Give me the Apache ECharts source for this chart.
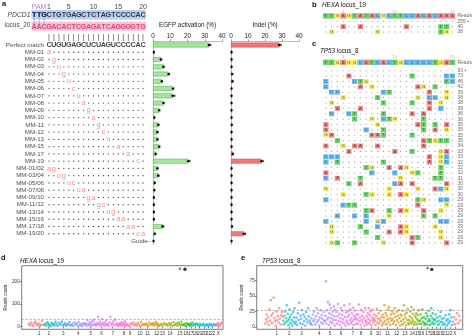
<!DOCTYPE html>
<html><head><meta charset="utf-8">
<script src="https://cdn.jsdelivr.net/npm/echarts@6/dist/echarts.min.js"></script>
<style>html,body{margin:0;padding:0;background:#fff}#c{width:474px;height:336px}</style>
</head><body><div id="c"></div>
<script>
// ---------------- Panel a data ----------------
const topSeq = "TTGCTGTGAGCTCTAGTCCCCAC";
const bottomSeq = "AACGACACTCGAGATCAGGGGTG";
const guideSeq = "CUGUGAGCUCUAGUCCCCAC";
const posTicks = [1, 5, 10, 15, 20];
const rowNames = ["Perfect match","MM-01","MM-02","MM-03","MM-04","MM-05","MM-06","MM-07","MM-08","MM-09","MM-10","MM-11","MM-12","MM-13","MM-15","MM-17","MM-19","MM-01/02","MM-03/04","MM-05/06","MM-07/08","MM-09/10","MM-11/12","MM-13/14","MM-15/16","MM-17/18","MM-19/20","Guide–"];
const mismatchPos = [[],[1],[2],[3],[4],[5],[6],[7],[8],[9],[10],[11],[12],[13],[15],[17],[19],[1,2],[3,4],[5,6],[7,8],[9,10],[11,12],[13,14],[15,16],[17,18],[19,20],null];
const mismatchNt = ["","a","g","u","g","u","c","u","a","g","a","g","c","u","a","a","c","ag","ug","uc","ua","ga","gc","ug","aa","aa","ca",""];
const egfp    = [32.5,0.5,4.5,6,9,5,11.5,11.5,6,3.5,0.8,3,2.5,2.5,3.5,1.5,20.5,2.5,3,1,0.8,0.5,0.5,0.5,0.5,5.5,1,0.3];
const egfpErr = [1,0.2,0.6,0.5,0.6,0.5,0.6,1.2,0.5,0.5,0.2,0.5,0.4,0.4,0.5,0.3,1,0.4,0.5,0.2,0.2,0.2,0.2,0.2,0.2,0.8,0.3,0.2];
const indel    = [28.5,0.3,0.3,0.3,0.6,0.8,0.3,0.3,0.3,0.3,0.3,0.4,0.3,0.3,0.3,1,18,0.3,0.3,0.3,0.3,0.3,0.3,0.3,0.3,0.6,7.6,0.3];
const indelErr = [1,0.2,0.2,0.2,0.5,0.5,0.2,0.2,0.2,0.2,0.2,0.3,0.2,0.2,0.2,0.4,1,0.2,0.2,0.2,0.2,0.2,0.2,0.2,0.2,0.3,1,0.2];

// ---------------- Panels b, c data ----------------
const hexaRef = "TTGAGTATACGCTTCCACACAAA";
const hexaRows = ["", "3A,6A,14A,20T,21T", "1G,9G,20T,21G"];
const hexaReads = ["255 •", "40", "38"];
const tp53Ref = "TTGAGGCATCACTGCCCCCTGAT";
const tp53Rows = ["","4A,15T,21C,22C","0C,5C,6T,7G,21T,22C","0C,6A,8G,16A,17G,19T","1C,2C,10C,11T,18A,21G",
 "3G,9T,16G,18C,19C,21G","1G,10T,15T,18A,20G","2A,6A,18A,20C","1C,4C,5T,10T,15A,17A","5T,8G,10C,11T,12G,17T",
 "0A,9G,16A,17T,19T,21A","0A,7C,10T,17T,19A,21G","0G,1A,8A,9A,10T,15T","2T,17A,18T,19G,20T,21T","0A,3G,5A,6A,9A,17A",
 "4A,12A,15T,20G,21A","0C,1C,2C,18A,20G,21C","0C,2T,10T,18A,20G,21C","7T,8G,11A,13A,14G,20T","0A,8C,12C,15G,16T,20T",
 "0C,2A,6T,13G,19T,20T","4T,6A,12C,13A,15A,21A","0G,11G,16G,19A,20C,21G","3G,7T,8G,11G,13A,14G","0C,16T,17G,20C,21C",
 "3C,4T,5T,16A,21G","7T,8A,11T,13A,14G,17A,20G","2C,5C,7C,11G,17T,19T","0C,7C,9G,10C,20C,21C","1G,6T,9C,13A,14G,19G",
 "1G,7T,11A,13A,14G,20G","9T,15A,16T,20G","1G,2T,5T,10G,15A,21A"];
const tp53Reads = ["93 •","73","46","42","39","38","38","38","36","36","35","35","35","35","34","33","33","32","32","32","31","30","30","30","29","29","29","29","29","29","29","29","29"];

// ---------------- Panels d, e data ----------------
const chrNames = ["1","2","3","4","5","6","7","8","9","10","11","12","13","14","15","16","17","18","19","20","21","22","X"];
const dLabelPos = [8.7,13.4,20.7,28.1,34.3,39.7,45.2,50.8,53.8,58.8,62.6,67.1,69.8,73.7,78.6,81.6,84.0,86.1,88.2,90.6,92.7,94.9,97.7];
const eLabelPos = [9.7,15.8,21.8,30.4,35.6,40.9,46.6,50.6,55.5,59.0,63.6,68.0,72.0,75.5,78.1,80.1,83.0,85.2,87.0,89.3,91.4,93.8,96.2];
const dReads = [
 [12,5,18,8,3,15,22,10,6,14,2,9,25,7],[8,14,4,19,11,6,2,16,9,12,5,21],[10,3,17,7,13,22,5,9,15,4,11,8,19,6],
 [6,12,3,18,9,14,4,20,7,11,2,16,10],[9,15,4,28,11,6,19,13,3,22,8,30,12,5],[7,16,44,10,21,5,13,34,9,18,3,12,25,8],
 [11,4,18,44,8,14,23,6,31,10,15,3],[5,13,9,19,3,11,16,7,22,4,12],[8,3,14,10,18,6],[12,5,17,9,3,21,7,13],
 [6,14,10,4,18,8,12],[9,16,5,13,20,7,11,3],[7,12,4,15,9],[10,5,16,8,13,3,19,6],[8,14,4,18,11,6,21,9],
 [6,12,3,15,9],[10,4,14,7,17],[5,11,8,14],[9,3,12,6],[7,13,4,10],[5,9,3,12],[8,4,11,6],[10,5,15,8,3,12,18]];
const eReads = [
 [5,12,20,8,15,3,28,10,43,18,6,22,47,14,9,2,25,11,17,7,30,13,4,19,24,16],
 [10,4,18,25,7,14,35,9,21,3,12,28,16,6,20,11,2,24,8,15,30,5],
 [8,15,3,22,11,39,6,18,13,27,4,20,9,16,2,24,12,7,30,17,10,5],
 [6,14,3,20,9,25,12,4,17,30,8,22,11,2,15,27,7,19,13,5,24,10],
 [9,18,74,5,27,12,40,15,3,22,36,8,30,14,20,6,25,11,33,17,2,28],
 [11,24,5,17,37,9,21,3,14,30,8,19,26,12,6,35,16,2,23,10],
 [7,16,25,4,19,37,11,28,6,14,22,9,31,3,18,12,26,15,5,20],
 [12,5,20,36,9,15,3,27,11,18,7,24,14,2,30,10],
 [8,17,4,22,13,30,6,19,10,25,3,15,28,11,7,20,14],
 [10,3,18,29,7,14,22,5,12,26,9,16,2,20],
 [6,15,35,9,22,4,18,12,28,7,32,14,3,20,10,25],
 [13,5,21,9,30,16,3,24,11,18,7,27,14,2,20],
 [9,18,4,26,12,35,7,20,15,3,23,11,29,6],
 [11,4,17,25,8,32,14,6,21,10,28,3,18],
 [7,15,22,4,12,19,9,27,5],[10,20,5,14,28,8,16,3],[6,13,22,4,17,9,26,12,3],[9,18,30,5,14,22,7,11],
 [4,12,20,8,15,3],[10,5,17,24,8,13,3],[7,14,4,19,10,2],[12,6,20,9,27,15,3],[8,16,4,12,22,6,18,10]];
const dOnTarget = [[78.6,257],[81.1,255]];
const eOnTarget = [[83.0,95],[85.0,93]];
const dThreshold = 31, eThreshold = 27;
const dYTicks = [0,100,200], eYTicks = [0,25,50,75];

// ---------------- helpers ----------------
const FONT = "'Liberation Sans', Arial, sans-serif";
const NT = {A:'#f26a6a', C:'#45aaf2', G:'#f0ea3c', T:'#43c843'};
function hcl(h,c,l){
  const hr=h*Math.PI/180, U=c*Math.cos(hr), V=c*Math.sin(hr);
  const Xn=95.047,Yn=100,Zn=108.883, den=Xn+15*Yn+3*Zn, un=4*Xn/den, vn=9*Yn/den;
  const Y = l>8 ? Yn*Math.pow((l+16)/116,3) : Yn*l/903.3;
  const up=U/(13*l)+un, vp=V/(13*l)+vn;
  const X=Y*9*up/(4*vp), Z=Y*(12-3*up-20*vp)/(4*vp);
  const x=X/100,y=Y/100,z=Z/100;
  const r=3.2404542*x-1.5371385*y-0.4985314*z, g=-0.9692660*x+1.8760108*y+0.0415560*z, b=0.0556434*x-0.2040259*y+1.0572252*z;
  const gm=v=>{v=v<=0.0031308?12.92*v:1.055*Math.pow(v,1/2.4)-0.055;return Math.round(Math.max(0,Math.min(1,v))*255);};
  return 'rgb('+gm(r)+','+gm(g)+','+gm(b)+')';
}
const levels = chrNames.slice().sort();
const chrColor = chrNames.map(n=>hcl(15+levels.indexOf(n)*360/23,100,65));

function textSeries(gi, data, lab, extra){
  return Object.assign({type:'scatter', xAxisIndex:gi, yAxisIndex:gi, symbolSize:1, itemStyle:{color:'transparent'},
    silent:true, clip:false, z:10, animation:false, data:data,
    label:Object.assign({show:true, position:'inside', formatter:p=>p.value[2], fontFamily:FONT, color:'#111', fontSize:7}, lab)}, extra||{});
}

// ---------------- Panel a series ----------------
const R_NUM=-5.23, R_TOP=-4.13, R_PAMBAR=-3.3, R_BOT=-2.52, R_PIPE=-1.1;
const aSeries = [];
aSeries.push(textSeries(0, topSeq.split('').map((ch,i)=>[i-2, R_TOP, ch]), {fontWeight:'bold', fontSize:7.2,
  color:'#111'}, {markArea:{silent:true, data:[
   [{xAxis:-2.55,yAxis:-4.82,itemStyle:{color:'#b8d1f2'}},{xAxis:20.55,yAxis:-3.5}],
   [{xAxis:-2.55,yAxis:-3.2,itemStyle:{color:'#f6c2d6'}},{xAxis:20.55,yAxis:-1.95}]]}}));
aSeries.push(textSeries(0, topSeq.slice(0,3).split('').map((ch,i)=>[i-2, R_TOP, ch]), {fontWeight:'bold', fontSize:7.2, color:'#2a1f5c'}, {z:11}));
aSeries.push(textSeries(0, bottomSeq.split('').map((ch,i)=>[i-2, R_BOT, ch]), {fontWeight:'bold', fontSize:7.2, color:'#dc2a5c'}));
aSeries.push(textSeries(0, [-2,-1,0].map(p=>[p, R_PAMBAR, '|']), {fontSize:6.5, color:'#7a58b0'}));
aSeries.push(textSeries(0, posTicks.map(p=>[p, R_NUM, String(p)]), {fontSize:7}));
aSeries.push(textSeries(0, [[-1, R_NUM, 'PAM']], {fontSize:7, color:'#8a68be'}));
aSeries.push(textSeries(0, guideSeq.split('').map((ch,i)=>[i+1, R_PIPE, '|']), {fontSize:7.5}));
aSeries.push(textSeries(0, guideSeq.split('').map((ch,i)=>[i+1, 0, ch]), {fontWeight:'bold', fontSize:7.2}));
aSeries.push(textSeries(0, [[-2.64, R_TOP, 'PDCD1']], {position:'left', distance:0, fontStyle:'italic', fontSize:6.8}));
aSeries.push(textSeries(0, [[-2.64, -2.75, 'locus_20']], {position:'left', distance:0, fontSize:6.5}));
aSeries.push(textSeries(0, rowNames.slice(0,27).map((n,r)=>[0.1, r, n]), {position:'left', distance:0, fontSize:6.2, color:'#222'}));
aSeries.push(textSeries(0, [[21.75, 27, rowNames[27]]], {position:'left', distance:0, fontSize:6.2, color:'#222'}));
(function(){
  const dots=[], mm=[];
  for(let r=1;r<=26;r++){
    const ps=mismatchPos[r];
    for(let p=1;p<=20;p++){
      const k=ps.indexOf(p);
      if(k>=0) mm.push([p, r, mismatchNt[r][k]]); else dots.push([p, r]);
    }
  }
  aSeries.push({type:'scatter', xAxisIndex:0, yAxisIndex:0, symbolSize:1.3, itemStyle:{color:'#111'}, silent:true, data:dots, animation:false});
  aSeries.push(textSeries(0, mm, {fontSize:7.6, color:'#ef7474'}));
})();

// ---------------- Bars ----------------
function errSeries(vals, errs, gi){
  return {type:'custom', xAxisIndex:gi, yAxisIndex:gi, silent:true, z:5, animation:false,
    data:vals.map((v,i)=>[v, errs[i], i]), encode:{x:0, y:2},
    renderItem:(params, api)=>{
      const v=api.value(0), e=api.value(1), i=api.value(2);
      const a=api.coord([v-e,i]), b=api.coord([v+e,i]), c=api.coord([v,i]);
      return {type:'group', children:[
        {type:'line', shape:{x1:a[0],y1:a[1],x2:b[0],y2:b[1]}, style:{stroke:'#000',lineWidth:0.7}},
        {type:'line', shape:{x1:b[0],y1:b[1]-1.3,x2:b[0],y2:b[1]+1.3}, style:{stroke:'#000',lineWidth:0.7}},
        {type:'circle', shape:{cx:c[0],cy:c[1],r:1.15}, style:{fill:'#000'}}]};
    }};
}
const barSeries = [
  {type:'bar', xAxisIndex:1, yAxisIndex:1, data:egfp, barWidth:4.8, silent:true, animation:false,
   itemStyle:{color:'#a4e89b', borderColor:'#46a846', borderWidth:0.5}},
  errSeries(egfp, egfpErr, 1),
  {type:'bar', xAxisIndex:2, yAxisIndex:2, data:indel, barWidth:4.8, silent:true, animation:false,
   itemStyle:{color:'#f47878', borderColor:'#c84a4a', borderWidth:0.5}},
  errSeries(indel, indelErr, 2)
];

// ---------------- Panels b, c ----------------
function parseRow(s){ const m={}; if(s) s.split(',').forEach(t=>{m[parseInt(t,10)]=t.replace(/[0-9]/g,'');}); return m; }
function seqSeries(gi, ref, rows, reads, hdrR, tickR){
  const hdr = ref.split('').map((ch,i)=>({value:[i+0.5, hdrR, ch], itemStyle:{color:NT[ch]}}));
  const cells=[], dots=[];
  rows.forEach((s,j)=>{ const m=parseRow(s); for(let i=0;i<ref.length;i++){ if(m[i]) cells.push({value:[i+0.5,j,m[i]], itemStyle:{color:NT[m[i]]}}); else dots.push([i+0.5,j]); } });
  const cellLab = {show:true, position:'inside', formatter:p=>p.value[2], fontSize:4.3, color:'#333', fontFamily:FONT};
  return [
    {type:'scatter', xAxisIndex:gi, yAxisIndex:gi, symbol:'rect', symbolSize:[5.8,5.4], data:hdr, label:cellLab, silent:true, clip:false, animation:false},
    {type:'scatter', xAxisIndex:gi, yAxisIndex:gi, symbol:'rect', symbolSize:[5.3,4.9], data:cells, label:cellLab, silent:true, clip:false, animation:false},
    {type:'scatter', xAxisIndex:gi, yAxisIndex:gi, symbolSize:1.1, itemStyle:{color:'#777'}, data:dots, silent:true, clip:false, animation:false},
    textSeries(gi, reads.map((t,j)=>[23.3, j, t]), {position:'right', distance:0, fontSize:5, color:'#444'}),
    textSeries(gi, [[23.3, hdrR, 'Reads']], {position:'right', distance:0, fontSize:5, color:'#444'}),
    textSeries(gi, [[3.5,tickR,'1']], {fontSize:4.2, color:'#e06060'}),
    textSeries(gi, [[12.5,tickR,'10'],[22.5,tickR,'20']], {fontSize:4.2, color:'#999'})
  ];
}

// ---------------- Manhattan ----------------
function manhattan(gi, pos, reads, lo, hi, onT, thr){
  const data=[];
  reads.forEach((arr,k)=>{
    const a = k===0 ? lo : (pos[k-1]+pos[k])/2;
    const b = k===pos.length-1 ? hi : (pos[k]+pos[k+1])/2;
    arr.forEach((v,i)=>data.push({value:[a+(i+0.5)*(b-a)/arr.length, v], itemStyle:{color:chrColor[k]}}));
  });
  return [
    {type:'scatter', xAxisIndex:gi, yAxisIndex:gi, symbolSize:2.6, data:data, silent:true, animation:false,
     itemStyle:{opacity:0.7},
     markLine:{silent:true, symbol:'none', label:{show:false}, data:[{yAxis:thr}], lineStyle:{type:[2,2], color:'#888', width:0.7}}},
    {type:'scatter', xAxisIndex:gi, yAxisIndex:gi, symbolSize:2.6, data:[onT[0]], itemStyle:{color:'#666'}, silent:true, animation:false},
    {type:'scatter', xAxisIndex:gi, yAxisIndex:gi, symbolSize:3.4, data:[onT[1]], itemStyle:{color:'#000'}, silent:true, animation:false}
  ];
}
function mAxisX(gi, pos){
  return {gridIndex:gi, type:'value', min:0, max:100, axisLine:{show:false}, splitLine:{show:false},
    axisTick:{show:true, customValues:pos, length:1.8, lineStyle:{color:'#333', width:0.6}},
    axisLabel:{customValues:pos, formatter:v=>chrNames[pos.indexOf(v)], fontSize:4.6, margin:2, color:'#333', fontFamily:FONT}};
}
function mAxisY(gi, min, max, ticks){
  return {gridIndex:gi, type:'value', min:min, max:max, axisLine:{show:false}, splitLine:{show:false},
    axisTick:{show:true, customValues:ticks, length:1.8, lineStyle:{color:'#333', width:0.6}},
    axisLabel:{customValues:ticks, fontSize:4.6, margin:2, color:'#333', fontFamily:FONT},
    name:'Reads count', nameLocation:'middle', nameGap:12, nameRotate:90, nameTextStyle:{fontSize:4.6, color:'#222', fontFamily:FONT}};
}

// ---------------- Option ----------------
const G = (l,t,w,h,extra)=>Object.assign({left:l, top:t, width:w, height:h, containLabel:false, outerBoundsMode:'none'}, extra||{});
const hidden = (gi, min, max, inv)=>({gridIndex:gi, type:'value', min:min, max:max, inverse:!!inv, show:false});
const barX = (gi, name)=>({gridIndex:gi, type:'value', position:'top', min:0, max:40, interval:10,
  axisLine:{show:true, lineStyle:{color:'#bbb', width:1}}, axisTick:{show:true, length:2, lineStyle:{color:'#999'}},
  splitLine:{show:false}, axisLabel:{fontSize:6.4, margin:2, color:'#222', fontFamily:FONT},
  name:name, nameLocation:'middle', nameGap:13, nameTextStyle:{fontSize:6.3, color:'#222', fontFamily:FONT}});
const barY = gi=>({gridIndex:gi, type:'category', data:rowNames, inverse:true,
  axisLine:{show:true, lineStyle:{color:'#bbb', width:1}}, axisTick:{show:false}, axisLabel:{show:false}});
const ttl = (text,l,t,size,extra)=>Object.assign({text:text, left:l, top:t, padding:0,
  textStyle:Object.assign({fontSize:size, color:'#111', fontFamily:FONT, fontWeight:'normal'}, extra||{})});

const option = {
  backgroundColor:'#fff', animation:false,
  textStyle:{fontFamily:FONT},
  title:[
    ttl('a',2,0,7.5,{fontWeight:'bold'}), ttl('b',312,1,7.5,{fontWeight:'bold'}), ttl('c',312,40,7.5,{fontWeight:'bold'}),
    ttl('d',1,254,7.5,{fontWeight:'bold'}), ttl('e',241,254,7.5,{fontWeight:'bold'}),
    ttl('{i|HEXA} locus_19',322,2,6.3,{rich:{i:{fontStyle:'italic',fontSize:6.3,fontFamily:FONT,color:'#111'}}}),
    ttl('{i|TP53} locus_8',320,48,6.3,{rich:{i:{fontStyle:'italic',fontSize:6.3,fontFamily:FONT,color:'#111'}}}),
    ttl('{i|HEXA} locus_19',20,258,6.3,{rich:{i:{fontStyle:'italic',fontSize:6.3,fontFamily:FONT,color:'#111'}}}),
    ttl('{i|TP53} locus_8',262,258,6.3,{rich:{i:{fontStyle:'italic',fontSize:6.3,fontFamily:FONT,color:'#111'}}})
  ],
  grid:[
    G(29.2,1.44,118.8,246.84),
    G(153,41.37,69,203.3),
    G(231,41.37,68,203.3),
    G(323,7.93,132.25,27.3),
    G(323,53.5,132.25,192.6),
    G(21.7,265.7,201.3,63.6,{show:true, borderColor:'#444', borderWidth:0.7}),
    G(256.7,265.7,206,63.6,{show:true, borderColor:'#444', borderWidth:0.7})
  ],
  xAxis:[ hidden(0,-3,21), barX(1,'EGFP activation (%)'), barX(2,'Indel (%)'), hidden(3,0,23), hidden(4,0,23),
    mAxisX(5,dLabelPos), mAxisX(6,eLabelPos) ],
  yAxis:[ hidden(0,-6,28,true), barY(1), barY(2), hidden(3,-2.5,2.6,true), hidden(4,-3.2,32.6,true),
    mAxisY(5,-12,271,dYTicks), mAxisY(6,-4,99,eYTicks) ],
  series:[].concat(aSeries, barSeries,
    seqSeries(3, hexaRef, hexaRows, hexaReads, -1, -1.85),
    seqSeries(4, tp53Ref, tp53Rows, tp53Reads, -1.56, -2.49),
    manhattan(5, dLabelPos, dReads, 3.3, 99.5, dOnTarget, dThreshold),
    manhattan(6, eLabelPos, eReads, 4, 99, eOnTarget, eThreshold))
};
const chart = echarts.init(document.getElementById('c'), null, {renderer:'canvas'});
chart.setOption(option);
</script></body></html>
